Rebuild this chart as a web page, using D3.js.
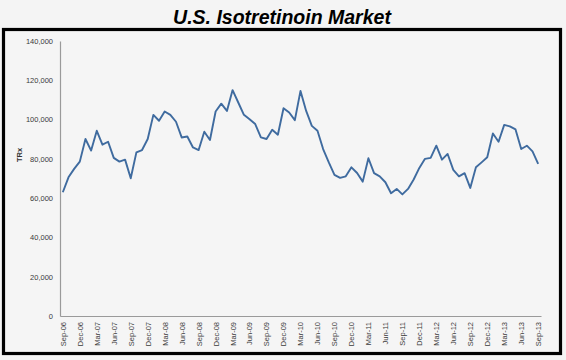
<!DOCTYPE html>
<html>
<head>
<meta charset="utf-8">
<script src="https://cdn.jsdelivr.net/npm/d3@7/dist/d3.min.js"></script>
<style>
  html, body { margin: 0; padding: 0; background: #f4f4f4; }
  svg { display: block; }
</style>
</head>
<body>
<svg id="chart" width="566" height="360"></svg>
<script>
const title = "U.S. Isotretinoin Market";
const yAxisTitle = "TRx";
const months = ["Jan","Feb","Mar","Apr","May","Jun","Jul","Aug","Sep","Oct","Nov","Dec"];
// categories: Sep-06 .. Sep-13 monthly
const categories = [];
for (let y = 2006, m = 8; y < 2013 || (y === 2013 && m <= 8); ) {
  categories.push(months[m] + "-" + String(y % 100).padStart(2, "0"));
  m++; if (m === 12) { m = 0; y++; }
}
const trx = [
  63000, 70600, 74900, 78600, 90100, 84200, 94300, 87200, 88700, 80500, 78600, 79600,
  70100, 83300, 84500, 90100, 102400, 99400, 104100, 102400, 98900, 90900, 91400, 85800,
  84500, 93800, 89600, 104100, 108100, 104400, 115000, 108700, 102400, 100200, 97700, 90900,
  90100, 94800, 92300, 105800, 103600, 99700, 114600, 104400, 96800, 94300, 85000, 78200,
  71800, 70300, 71100, 75700, 72800, 68400, 80300, 72700, 71100, 68100, 62500, 64700,
  61900, 64700, 69500, 75400, 80000, 80500, 86700, 79600, 82500, 74400, 71100, 72700,
  65200, 75700, 78200, 80800, 92900, 88700, 97300, 96500, 95000, 85000, 86700, 83800,
  77400
];
const yTicks = [0, 20000, 40000, 60000, 80000, 100000, 120000, 140000];
// x tick labels every 3 months
const xTickLabels = categories.filter((d, i) => i % 3 === 0);

const svg = d3.select("#chart");

svg.append("rect").attr("x", 0).attr("y", 0).attr("width", 566).attr("height", 360).attr("fill", "#f4f4f4");

svg.append("text")
  .attr("x", 282).attr("y", 24)
  .attr("text-anchor", "middle")
  .attr("font-family", "Liberation Sans, Arial, sans-serif")
  .attr("font-size", 19.5).attr("font-weight", "bold").attr("font-style", "italic")
  .attr("fill", "#000")
  .text(title);

svg.append("rect")
  .attr("x", 3.5).attr("y", 29.5).attr("width", 557).attr("height", 324)
  .attr("fill", "#f5f5f5").attr("stroke", "#000").attr("stroke-width", 3.2);

const x = d3.scalePoint().domain(categories).range([60, 541]).padding(0.5);
const y = d3.scaleLinear().domain([0, 140000]).range([316, 41]);

const fontFam = "Liberation Sans, Arial, sans-serif";

// Y axis
const yAxis = d3.axisLeft(y).tickValues(yTicks).tickFormat(d3.format(",")).tickSize(0).tickPadding(7);
const gy = svg.append("g").attr("transform", "translate(60,0)").call(yAxis);
gy.select(".domain").attr("stroke", "#9a9a9a").attr("stroke-width", 1.2);
gy.selectAll("text").attr("font-family", fontFam).attr("font-size", 7.5).attr("fill", "#3a3a3a");

// X axis
const xAxis = d3.axisBottom(x).tickValues(xTickLabels).tickSize(0).tickPadding(6);
const gx = svg.append("g").attr("transform", "translate(0,316)").call(xAxis);
gx.select(".domain").attr("stroke", "#9a9a9a").attr("stroke-width", 1.2);
gx.selectAll("text")
  .attr("font-family", fontFam).attr("font-size", 7.5).attr("fill", "#3a3a3a")
  .attr("text-anchor", "end")
  .attr("transform", "rotate(-90)")
  .attr("x", -6).attr("y", 0).attr("dy", "0.32em");

// Y axis title
svg.append("text")
  .attr("transform", "translate(22,155) rotate(-90)")
  .attr("text-anchor", "middle")
  .attr("font-family", fontFam).attr("font-size", 7.5).attr("font-weight", "bold")
  .attr("fill", "#333")
  .text(yAxisTitle);

// Line
const line = d3.line().x((d, i) => x(categories[i])).y(d => y(d));
svg.append("path")
  .datum(trx)
  .attr("d", line)
  .attr("fill", "none")
  .attr("stroke", "#3f6b9f")
  .attr("stroke-width", 1.9)
  .attr("stroke-linejoin", "round");
</script>
</body>
</html>
